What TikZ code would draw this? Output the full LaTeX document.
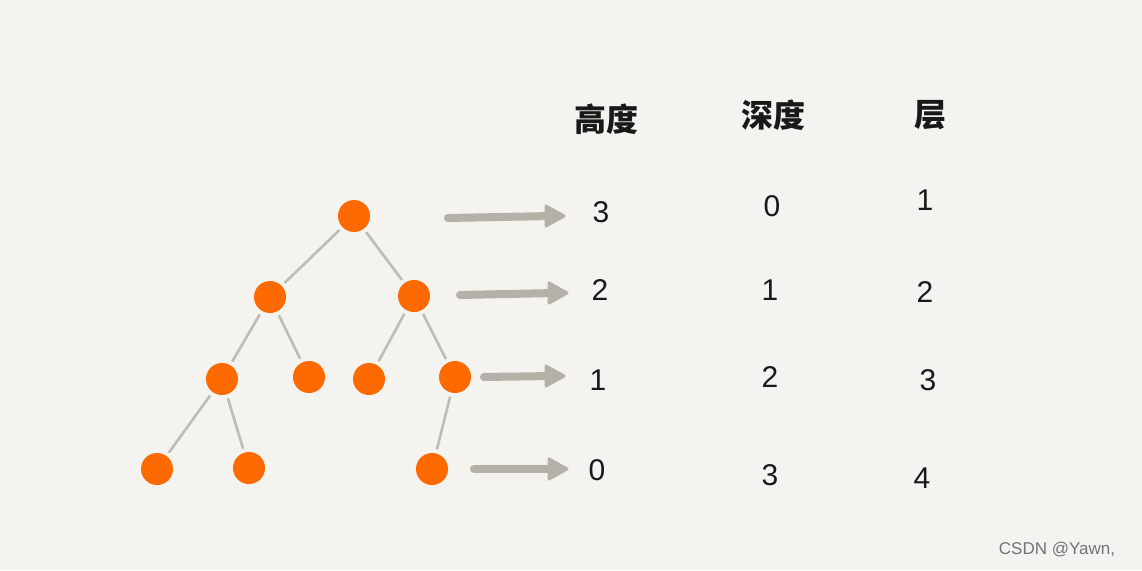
\documentclass[tikz,border=0pt]{standalone}
\usepackage{fontspec}
\setmainfont{Liberation Sans}
\newfontfamily\cjk{Noto Sans CJK SC}
\usetikzlibrary{arrows.meta,calc}
\definecolor{bgc}{HTML}{F4F3EF}
\definecolor{dotc}{HTML}{FF6A00}
\definecolor{edgec}{HTML}{BDBCB6}
\definecolor{arrc}{HTML}{B4B1A8}
\tikzset{
  dot/.style={circle,fill=dotc,minimum size=32pt,inner sep=0pt},
  edge/.style={draw=edgec,line width=2.6pt,shorten <=4pt,shorten >=4pt},
  shaft/.style={draw=arrc,line width=8pt,line cap=round},
  headtri/.style={fill=arrc,draw=arrc,line width=3pt,line join=round},
  num/.style={font=\fontsize{30}{30}\selectfont,text=black!90},
  head/.style={font=\cjk\fontsize{32}{32}\selectfont\bfseries,text=black!90},
}
\begin{document}
\begin{tikzpicture}[x=1pt,y=-1pt]
\fill[bgc] (0,0) rectangle (1142,570);
\useasboundingbox (0,0) rectangle (1142,570);
% tree nodes
\node[dot] (r) at (354,216) {};
\node[dot] (a) at (270,297) {};
\node[dot] (b) at (414,296) {};
\node[dot] (c) at (222,379) {};
\node[dot] (d) at (309,377) {};
\node[dot] (e) at (369,379) {};
\node[dot] (f) at (455,377) {};
\node[dot] (g) at (157,469) {};
\node[dot] (h) at (249,468) {};
\node[dot] (i) at (432,469) {};
% edges
\path[edge] (r) -- (a);
\path[edge] (r) -- (b);
\path[edge] (a) -- (c);
\path[edge] (a) -- (d);
\path[edge] (b) -- (e);
\path[edge] (b) -- (f);
\path[edge] (c) -- (g);
\path[edge] (c) -- (h);
\path[edge] (f) -- (i);
% arrows
\coordinate (s1) at (448,218); \coordinate (t1) at (566,216);
\coordinate (s2) at (460,295); \coordinate (t2) at (569,293);
\coordinate (s3) at (484,377); \coordinate (t3) at (566,376);
\coordinate (s4) at (474,469); \coordinate (t4) at (569,469);
\foreach \s/\t in {s1/t1,s2/t2,s3/t3,s4/t4}{
  \draw[shaft] (\s) -- ($(\t)+(-14,0)$);
  \filldraw[headtri] ($(\t)+(-2,0)$) -- ($(\t)+(-20,-10)$) -- ($(\t)+(-20,10)$) -- cycle;
}
% headers
\node[head] (h1) at (606,119) {高度};
\node[head] (h2) at (773,115) {深度};
\node[head] (h3) at (930,115) {层};
% numbers
\node[num] (n11) at (601,212) {3};
\node[num] (n21) at (600,290) {2};
\node[num] (n31) at (598,380) {1};
\node[num] (n41) at (597,470) {0};
\node[num] (n12) at (772,206) {0};
\node[num] (n22) at (770,290) {1};
\node[num] (n32) at (770,377) {2};
\node[num] (n42) at (770,475) {3};
\node[num] (n13) at (925,200) {1};
\node[num] (n23) at (925,292) {2};
\node[num] (n33) at (928,380) {3};
\node[num] (n43) at (922,478) {4};
% watermark
\node[font=\fontsize{17}{17}\selectfont,text=black!55] (wm) at (1057,550) {CSDN @Yawn,};
\end{tikzpicture}
\end{document}
